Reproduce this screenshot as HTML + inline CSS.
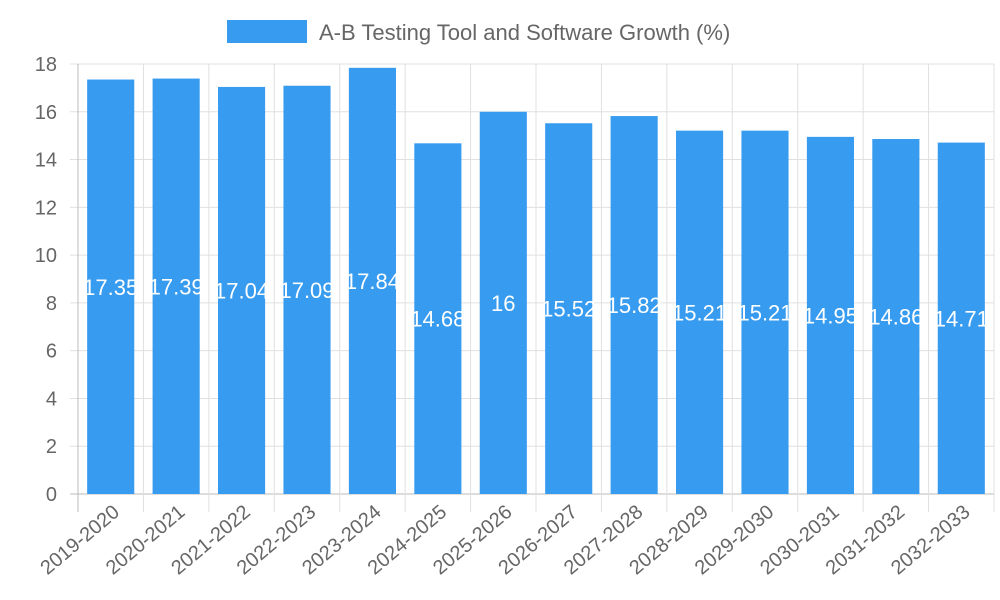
<!DOCTYPE html>
<html><head><meta charset="utf-8"><style>
body{margin:0;background:#fff;}
svg{display:block;font-family:"Liberation Sans",sans-serif;}
</style></head><body>
<svg id="chart" width="1000" height="600">
<g>
<rect x="227" y="20" width="80" height="23" fill="#379bf0"></rect>
<text x="319" y="40" font-size="22" fill="#666">A-B Testing Tool and Software Growth (%)</text>
</g>
<g id="grid"></g>
<g id="bars"></g>
<g id="axes"></g>
</svg>
<script>
const categories=["2019-2020","2020-2021","2021-2022","2022-2023","2023-2024","2024-2025","2025-2026","2026-2027","2027-2028","2028-2029","2029-2030","2030-2031","2031-2032","2032-2033"];
const values=[17.35,17.39,17.04,17.09,17.84,14.68,16,15.52,15.82,15.21,15.21,14.95,14.86,14.71];
const valueLabels=["17.35","17.39","17.04","17.09","17.84","14.68","16","15.52","15.82","15.21","15.21","14.95","14.86","14.71"];
const yTicks=[0,2,4,6,8,10,12,14,16,18];
const NS="http://www.w3.org/2000/svg";
const L=78,R=994,T=64,B=494,yMax=18;
const band=(R-L)/categories.length;
const y=v=>B-(v/yMax)*(B-T);
const x=i=>L+band*i;
function mk(tag,attrs,parent){const e=document.createElementNS(NS,tag);for(const k in attrs)e.setAttribute(k,attrs[k]);parent.appendChild(e);return e;}
const grid=document.getElementById('grid'),bars=document.getElementById('bars'),axes=document.getElementById('axes');
yTicks.forEach(t=>{
 const l=mk('line',{x1:70,x2:R,y1:y(t),y2:y(t),stroke:t===0?'#bbb':'#e0e0e0','stroke-width':1},grid);
 
 
 const tx=mk('text',{x:57,y:y(t)+7,'text-anchor':'end','font-size':20,fill:'#666'},axes);
 tx.textContent=t;
 
 
});
for(let i=0;i<=categories.length;i++){
 const l=mk('line',{x1:x(i),x2:x(i),y1:T,y2:B+18,stroke:i===0?'#bbb':'#e0e0e0','stroke-width':1},grid);
 
 
}
categories.forEach((c,i)=>{
 const bw=band*0.72,cx=x(i)+band/2;
 const r=mk('rect',{x:cx-bw/2,y:y(values[i]),width:bw,height:B-y(values[i]),fill:'#379bf0'},bars);
 
 
 const vt=mk('text',{x:cx,y:(y(values[i])+B)/2+8,'text-anchor':'middle','font-size':22,fill:'#fff'},bars);
 vt.textContent=valueLabels[i];
 
 
 const xt=mk('text',{x:cx+10,y:B+20,'text-anchor':'end','font-size':20,fill:'#666',transform:`rotate(-40 ${cx+10} ${B+20})`},axes);
 xt.textContent=c;
 
 
});
</script>
</body></html>
